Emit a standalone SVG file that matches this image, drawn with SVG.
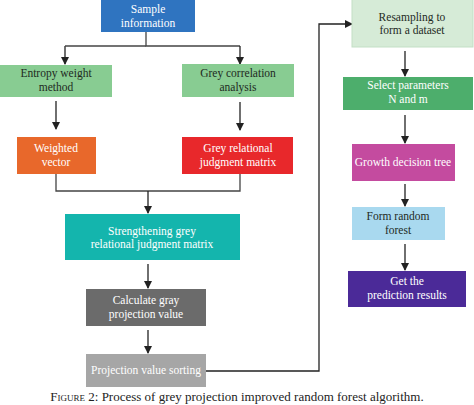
<svg xmlns="http://www.w3.org/2000/svg" width="474" height="405" viewBox="0 0 474 405">
<defs>
<marker id="ah" markerWidth="8" markerHeight="8" refX="7" refY="4" orient="auto" markerUnits="userSpaceOnUse">
<path d="M0,0 L8,4 L0,8 Z" fill="#222"/>
</marker>
<style>
.t{font-family:"Liberation Serif","DejaVu Serif",serif;font-size:11.5px;text-anchor:middle}
.w{fill:#ffffff}
.d{fill:#1e2a1e}
.c{fill:none;stroke:#444;stroke-width:1.3}
.a{fill:none;stroke:#222;stroke-width:1.3;marker-end:url(#ah)}
</style>
</defs>
<rect width="474" height="405" fill="#ffffff"/>
<g id="connectors">
<path class="c" d="M146,32 V46 H240"/>
<path class="a" d="M65,46 V64"/>
<path class="a" d="M240,46 V64"/>
<path class="c" d="M146,46 H65"/>
<path class="a" d="M56,101 V129"/>
<path class="a" d="M240,102 V130"/>
<path class="c" d="M56,174 V191 H240 V174"/>
<path class="a" d="M148,191 V213"/>
<path class="a" d="M148,264 V288"/>
<path class="a" d="M148,330 V353"/>
<path class="a" d="M206,371 H319 V24 H352"/>
<path class="a" d="M405,51 V76"/>
<path class="a" d="M405,115 V143"/>
<path class="a" d="M405,184 V206"/>
<path class="a" d="M405,244 V270"/>
</g>
<g id="sample">
<rect x="101" y="0" width="94" height="32" fill="#2f74c0"/>
<text class="t w" x="148" y="13">Sample</text>
<text class="t w" x="148" y="27">information</text>
</g>
<g id="entropy">
<rect x="0" y="65" width="112" height="32" fill="#88cc92"/>
<text class="t d" x="56" y="77">Entropy weight</text>
<text class="t d" x="56" y="91">method</text>
</g>
<g id="greycorr">
<rect x="182" y="64" width="112" height="33" fill="#88cc92"/>
<text class="t d" x="238" y="77">Grey correlation</text>
<text class="t d" x="238" y="91">analysis</text>
</g>
<g id="weighted">
<rect x="17" y="137" width="79" height="37" fill="#e8682b"/>
<text class="t w" x="56" y="152">Weighted</text>
<text class="t w" x="56" y="166">vector</text>
</g>
<g id="greyrel">
<rect x="182" y="137" width="111" height="37" fill="#e8282b"/>
<text class="t w" x="238" y="152">Grey relational</text>
<text class="t w" x="238" y="166">judgment matrix</text>
</g>
<g id="strengthening">
<rect x="65" y="214" width="175" height="46" fill="#14b5ad"/>
<text class="t w" x="152" y="235">Strengthening grey</text>
<text class="t w" x="152" y="248">relational judgment matrix</text>
</g>
<g id="calculate">
<rect x="86" y="289" width="120" height="37" fill="#6b6b6b"/>
<text class="t w" x="146" y="304">Calculate gray</text>
<text class="t w" x="146" y="318">projection value</text>
</g>
<g id="sorting">
<rect x="86" y="354" width="120" height="33" fill="#a6a6a6"/>
<text class="t w" x="146" y="374">Projection value sorting</text>
</g>
<g id="resampling">
<rect x="352" y="-1" width="121" height="48" fill="#d6ebd7" stroke="#c3dfc5" stroke-width="1"/>
<text class="t d" x="412" y="21">Resampling to</text>
<text class="t d" x="412" y="34">form a dataset</text>
</g>
<g id="select">
<rect x="343" y="77" width="130" height="33" fill="#4dae6c"/>
<text class="t w" x="408" y="89">Select parameters</text>
<text class="t w" x="408" y="103">N and m</text>
</g>
<g id="growth">
<rect x="352" y="144" width="103" height="37" fill="#c44b9f"/>
<text class="t w" x="403" y="166">Growth decision tree</text>
</g>
<g id="forest">
<rect x="352" y="207" width="93" height="33" fill="#a9d9ef"/>
<text class="t d" x="398" y="220">Form random</text>
<text class="t d" x="398" y="234">forest</text>
</g>
<g id="prediction">
<rect x="348" y="271" width="118" height="36" fill="#4b2a98"/>
<text class="t w" x="407" y="285">Get the</text>
<text class="t w" x="407" y="299">prediction results</text>
</g>
<text x="237" y="401" style="font-family:'Liberation Serif','DejaVu Serif',serif;font-size:13px;text-anchor:middle;fill:#222"><tspan style="font-variant:small-caps">Figure</tspan> 2: Process of grey projection improved random forest algorithm.</text>
</svg>
